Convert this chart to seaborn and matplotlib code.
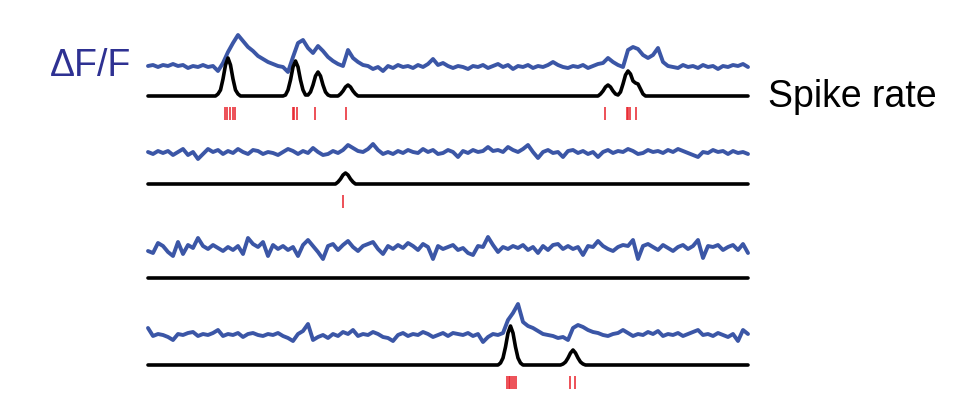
import numpy as np
import pandas as pd
import matplotlib
matplotlib.use("Agg")
import matplotlib.pyplot as plt
import seaborn as sns

# ---------------- data (deflections) ----------------
# dF/F traces: one sample per time unit (t = 0..120)
dff_cell1 = [1, 2, 0, 2, 1, 3, 1, 2, -1, 1, 0, 2, 0, 1, -4, 4, 15, 24, 32, 26,
             20, 16, 11, 8, 5, 3, 1, 0, -5, 10, 24, 27, 19, 14, 21, 16, 10, 6, 3, 1,
             17, 9, 5, 2, 1, -2, 0, -4, 1, -1, 2, 0, 1, -1, 2, 0, 3, 8, 2, 4,
             1, -1, 1, 0, -2, 1, 0, 2, -1, 1, 3, 0, 2, -2, 1, 0, 2, -1, 1, 0,
             2, 5, 2, 0, -1, 1, 0, 2, -1, 1, 3, 4, 9, 5, 2, 0, 17, 20, 18, 12,
             9, 12, 19, 5, 1, 0, -1, 2, 0, 1, -1, 2, 0, 1, -2, 1, 0, 2, 1, 3, 0]
dff_cell2 = [1, -1, 2, 0, 2, -2, 1, 4, -2, 1, -6, -1, 4, 1, 3, -1, 2, 0, 4, 1,
             -1, 3, 2, -1, 1, 0, -2, 1, 4, 2, -1, 2, 0, 5, 1, -2, -1, 2, 0, 3,
             8, 5, 2, 1, 4, 9, 3, -1, 1, -1, 2, 0, 3, 1, 0, 4, 1, 3, -1, 0,
             3, 1, -4, 2, 0, 3, 1, 2, 6, 2, 3, 1, 6, 3, 1, 4, 8, 1, -5, 1,
             3, 0, 1, -4, 2, 3, 0, 2, -1, 1, -4, 1, 3, 0, 2, 1, 4, 2, -1, 0,
             3, 1, 2, 0, 3, 1, 4, 2, 0, -2, -4, 1, 0, 3, 1, 2, -1, 2, 0, 1, -1]
dff_cell3 = [-3, -5, 5, 2, -4, -8, 6, -6, 3, 0, 10, 2, -1, 3, 0, -3, 1, -2, 2, -6,
             10, 4, 1, 6, -8, 3, -1, 2, -2, 1, -8, 3, 8, 2, -4, -11, 2, 4, -2, 3,
             7, 1, -3, 2, 4, 6, -1, -6, 2, -1, 3, 0, 5, 2, -2, 4, 1, -11, 2, -1,
             1, 3, -2, 0, -5, -7, 2, 1, 11, 3, -4, 1, -1, 2, 0, 3, -2, 1, -5, 2,
             -2, 3, 4, -1, 2, -1, 1, -7, 2, 1, 7, 2, -1, -3, 1, 3, 2, 8, -11, 2,
             4, 1, -2, 3, 0, -3, 1, 3, -1, 2, 8, -10, 2, 1, 3, -2, 1, 3, -2, 4, -5]
dff_cell4 = [7, -1, 1, 0, -2, -5, 1, 0, 2, 3, -1, 1, 0, 2, 5, -1, 1, 0, 2, -2,
             1, 2, 0, -1, 1, 0, 2, -1, -3, -6, 1, 4, 11, -5, -2, 0, -3, 1, -1, 3,
             1, 5, -1, 1, 0, 3, 1, -2, -3, -6, 0, 2, -1, 1, 0, 3, 1, -2, 0, 2,
             -1, 2, 1, 0, 2, -1, 1, -7, -2, 1, 0, 2, 15, 22, 31, 13, 9, 7, 4, 1,
             0, -1, -3, -2, -5, 7, 10, 8, 5, 3, 2, 0, -1, 1, 2, 5, 2, -1, 1, 0,
             3, 1, 4, -1, 1, 0, 2, -1, 1, 3, 5, 0, 1, -1, 2, 0, -2, 1, -6, 5, 1]

# spike rate: one sample per half time unit (t = 0, 0.5, ..., 120)
rate_cell1 = ([0] * 28 + [2, 6, 17, 31, 38, 31, 17, 6, 2] + [0] * 18
              + [1, 6, 16, 29, 35, 29, 16, 6, 1] + [1, 4, 11, 20, 24, 20, 11, 4, 1]
              + [0] * 3 + [0, 2, 5, 9, 11, 9, 5, 2, 0] + [0] * 95
              + [0, 2, 5, 9, 11, 9, 5, 2] + [1, 4, 12, 21, 25, 22, 15, 13, 12, 7, 2, 0]
              + [0] * 41)
rate_cell2 = [0] * 75 + [0, 2, 5, 9, 11, 9, 5, 2, 0] + [0] * 157
rate_cell3 = [0] * 241
rate_cell4 = ([0] * 141 + [2, 7, 18, 32, 39, 32, 18, 7, 2] + [0] * 16
              + [1, 3, 7, 12, 15, 12, 7, 3, 1] + [0] * 66)

# inferred spike times (time units)
spikes_cell1 = [15.4, 15.87, 16.4, 16.93, 17.4, 28.93, 29.27, 29.73, 33.4, 39.53,
                91.4, 95.73, 96.07, 96.4, 97.53]
spikes_cell2 = [39.07]
spikes_cell3 = []
spikes_cell4 = [71.8, 72.1, 72.4, 72.8, 73.2, 73.6, 84.4, 85.4]

dff_traces = [dff_cell1, dff_cell2, dff_cell3, dff_cell4]
rate_traces = [rate_cell1, rate_cell2, rate_cell3, rate_cell4]
spike_trains = [spikes_cell1, spikes_cell2, spikes_cell3, spikes_cell4]

# ---------------- layout / style ----------------
BLUE = "#3b56a6"
LABEL_BLUE = "#2e3192"
RED = "#e8202a"
dff_base = [67, 153, 248, 335]     # vertical offsets of rows
rate_base = [96, 184, 278, 365]

sns.set_style("white")
plt.rcParams["font.family"] = ["Liberation Sans", "DejaVu Sans"]

W, H = 963, 417
fig = plt.figure(figsize=(W / 100, H / 100), dpi=100)
ax = fig.add_axes([0, 0, 1, 1])
ax.set_xlim((0 - 148) / 5, (W - 148) / 5)
ax.set_ylim(H, 0)
ax.axis("off")

for dff, rate, spk, b1, b2 in zip(dff_traces, rate_traces, spike_trains,
                                  dff_base, rate_base):
    d1 = pd.DataFrame({"t": np.arange(len(dff)), "y": b1 - np.asarray(dff, float)})
    sns.lineplot(data=d1, x="t", y="y", ax=ax, color=BLUE, lw=2.8,
                 estimator=None, sort=False, solid_joinstyle="round")
    d2 = pd.DataFrame({"t": np.arange(len(rate)) * 0.5,
                       "y": b2 - np.asarray(rate, float)})
    sns.lineplot(data=d2, x="t", y="y", ax=ax, color="black", lw=2.6,
                 estimator=None, sort=False, solid_joinstyle="round")
    if spk:
        ax.vlines(spk, b2 + 11, b2 + 24, color=RED, lw=1.1)

ax.set_xlabel("")
ax.set_ylabel("")

fig.text(50 / W, 1 - 66 / H, "ΔF/F", color=LABEL_BLUE, fontsize=27,
         ha="left", va="center")
fig.text(768 / W, 1 - 97 / H, "Spike rate", color="black", fontsize=27,
         ha="left", va="center")

fig.savefig("out.png", dpi=100)
